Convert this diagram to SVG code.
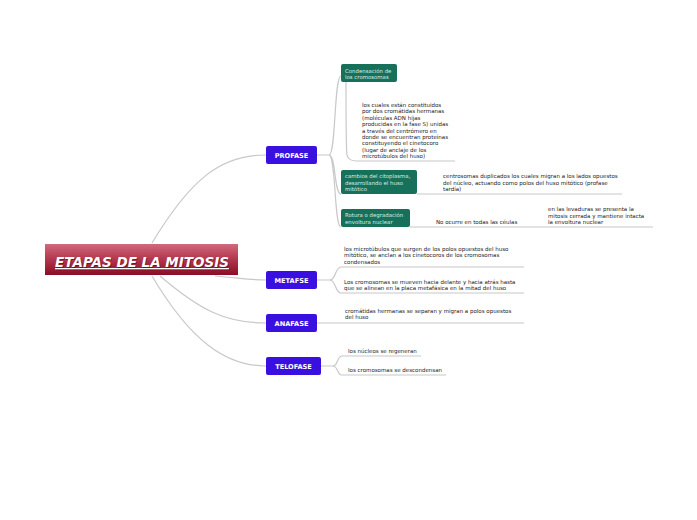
<svg xmlns="http://www.w3.org/2000/svg" width="697" height="520" viewBox="0 0 697 520">
<defs>
<linearGradient id="rg" x1="0" y1="0" x2="0" y2="1">
<stop offset="0" stop-color="#d06a7c"/>
<stop offset="0.45" stop-color="#b53a52"/>
<stop offset="1" stop-color="#8c0c26"/>
</linearGradient>
</defs>
<style>
.c{fill:none;stroke:#c8c8c8;stroke-width:1.2}
.ph rect{fill:#3a10e0}
.ph text{fill:#fff;font-family:"DejaVu Sans",sans-serif;font-weight:bold;font-size:6.6px;text-anchor:middle}
.gr rect{fill:#17705a}
.gr text{fill:#d8efe6;font-family:"DejaVu Sans",sans-serif;font-size:5.4px}
.t{fill:#222;font-family:"DejaVu Sans",sans-serif;font-size:5.5px}
</style>
<rect width="697" height="520" fill="#fff"/>
<g id="connectors">
<path class="c" d="M152,243 C190,180 220,155 266,155"/>
<path class="c" d="M215,276 C240,278 250,280 266,280"/>
<path class="c" d="M160,276 C200,310 225,323 266,323"/>
<path class="c" d="M152,276 C190,340 225,366 266,366"/>
<path class="c" d="M317,155 H329 C336,155 334,76 341,76"/>
<path class="c" d="M329,155 C336,155 334,194 341,194"/>
<path class="c" d="M329,155 C336,155 334,227 341,227"/>
<path class="c" d="M346,82 C346,100 346,150 347,155 C348,160 352,161 357,161 H455"/>
<path class="c" d="M417,194 H622"/>
<path class="c" d="M410,227 H653"/>
<path class="c" d="M317,280 H330 C336,280 335,267 341,267 H524"/>
<path class="c" d="M330,280 C336,280 335,293 341,293 H524"/>
<path class="c" d="M317,323 H524"/>
<path class="c" d="M321,366 H333 C338,366 337,356 342,356 H421"/>
<path class="c" d="M333,366 C338,366 337,375 342,375 H446"/>
</g>
<g id="root">
<rect x="45" y="244" width="193" height="31" fill="url(#rg)"/>
<text x="142" y="267" text-anchor="middle" font-family="Verdana, 'DejaVu Sans', sans-serif" font-size="13.5" font-weight="bold" font-style="italic" fill="#5a0010" text-decoration="underline" opacity="0.6" dx="0.8" dy="0.8">ETAPAS DE LA MITOSIS</text>
<text x="142" y="267" text-anchor="middle" font-family="Verdana, 'DejaVu Sans', sans-serif" font-size="13.5" font-weight="bold" font-style="italic" fill="#fff" text-decoration="underline">ETAPAS DE LA MITOSIS</text>
</g>
<g id="profase" class="ph"><rect x="266" y="146" width="51" height="18" rx="2"/><text x="291.5" y="157.5">PROFASE</text></g>
<g id="metafse" class="ph"><rect x="266" y="271" width="51" height="18" rx="2"/><text x="291.5" y="282.5">METAFSE</text></g>
<g id="anafase" class="ph"><rect x="266" y="314" width="51" height="18" rx="2"/><text x="291.5" y="325.5">ANAFASE</text></g>
<g id="telofase" class="ph"><rect x="266" y="357" width="55" height="18" rx="2"/><text x="293.5" y="368.5">TELOFASE</text></g>
<g id="condensacion" class="gr"><rect x="341" y="64" width="56" height="18" rx="2"/><text x="345" y="72.5">Condensación de</text><text x="345" y="78.8">los cromosomas</text></g>
<g id="cambios" class="gr"><rect x="341" y="170" width="76" height="24" rx="2"/><text x="345" y="178">cambios del citoplasma,</text><text x="345" y="184.5">desarrollando el huso</text><text x="345" y="191">mitótico</text></g>
<g id="rotura" class="gr"><rect x="341" y="209" width="69" height="18" rx="2"/><text x="345" y="217">Rotura o degradación</text><text x="345" y="223.5">envoltura nuclear</text></g>
<g id="cromatidas-desc">
<text class="t" x="362" y="107">los cuales están constituidos</text>
<text class="t" x="362" y="113.4">por dos cromátidas hermanas</text>
<text class="t" x="362" y="119.8">(moléculas ADN hijas</text>
<text class="t" x="362" y="126.2">producidas en la fase S) unidas</text>
<text class="t" x="362" y="132.6">a través del centrómero en</text>
<text class="t" x="362" y="139">donde se encuentran proteínas</text>
<text class="t" x="362" y="145.4">constituyendo el cinetocoro</text>
<text class="t" x="362" y="151.8">(lugar de anclaje de los</text>
<text class="t" x="362" y="158.2">microtúbulos del huso)</text>
</g>
<g id="centrosomas">
<text class="t" x="443" y="178">centrosomas duplicados los cuales migran a los lados opuestos</text>
<text class="t" x="443" y="184.5">del núcleo, actuando como polos del huso mitótico (profase</text>
<text class="t" x="443" y="191">tardía)</text>
</g>
<g id="no-ocurre"><text class="t" x="436" y="224">No ocurre en todas las céulas</text></g>
<g id="levaduras">
<text class="t" x="548" y="211">en las levaduras se presenta la</text>
<text class="t" x="548" y="217.5">mitosis cerrada y mantiene intacta</text>
<text class="t" x="548" y="224">la envoltura nuclear</text>
</g>
<g id="microtubulos">
<text class="t" x="344" y="250.5">los microtúbulos que surgen de los polos opuestos del huso</text>
<text class="t" x="344" y="257">mitótico, se anclan a los cinetocoros de los cromosomas</text>
<text class="t" x="344" y="263.5">condensados</text>
</g>
<g id="mueven">
<text class="t" x="344" y="283.5">Los cromosomas se mueven hacia delante y hacia atrás hasta</text>
<text class="t" x="344" y="290">que se alinean en la placa metafásica en la mitad del huso</text>
</g>
<g id="separan">
<text class="t" x="345" y="312.5">cromátidas hermanas se separan y migran a polos opuestos</text>
<text class="t" x="345" y="319">del huso</text>
</g>
<g id="nucleos"><text class="t" x="348" y="353">los núcleos se regeneran</text></g>
<g id="descondensan"><text class="t" x="348" y="372">los cromosomas se descondensan</text></g>
</svg>
